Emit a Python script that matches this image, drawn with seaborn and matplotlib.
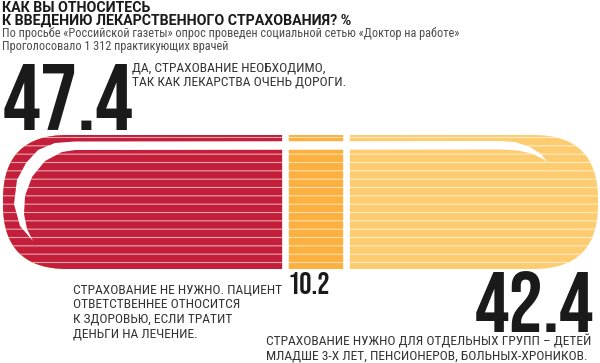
import numpy as np
import pandas as pd
import seaborn as sns
import matplotlib
matplotlib.use("Agg")
import matplotlib.pyplot as plt
from matplotlib.patches import FancyBboxPatch, Polygon
from matplotlib.transforms import Affine2D

# Данные опроса
answers = ["Да, необходимо", "Не нужно", "Для отдельных групп"]
shares = [47.4, 10.2, 42.4]
colors = ["#C41F3A", "#FBB040", "#FECC70"]

title = ["КАК ВЫ ОТНОСИТЕСЬ", "К ВВЕДЕНИЮ ЛЕКАРСТВЕННОГО СТРАХОВАНИЯ? %"]
subtitle = ["По просьбе «Российской газеты» опрос проведен социальной сетью «Доктор на работе»",
            "Проголосовало 1 312 практикующих врачей"]
captions = [
    ["ДА, СТРАХОВАНИЕ НЕОБХОДИМО,", "ТАК КАК ЛЕКАРСТВА ОЧЕНЬ ДОРОГИ."],
    ["СТРАХОВАНИЕ НЕ НУЖНО. ПАЦИЕНТ", "ОТВЕТСТВЕННЕЕ ОТНОСИТСЯ",
     "К ЗДОРОВЬЮ, ЕСЛИ ТРАТИТ", "ДЕНЬГИ НА ЛЕЧЕНИЕ."],
    ["СТРАХОВАНИЕ НУЖНО ДЛЯ ОТДЕЛЬНЫХ ГРУПП – ДЕТЕЙ",
     "МЛАДШЕ 3-Х ЛЕТ, ПЕНСИОНЕРОВ, БОЛЬНЫХ-ХРОНИКОВ."],
]

W, H = 600, 363
SCALE = 5.95          # пикселей на 1 процентный пункт
LEFT_PX, CENTER_PX = 3, 202
HALF_H = 67 / SCALE   # половина высоты «таблетки»
RADIUS = 64 / SCALE

sns.set_theme(style="white")
plt.rcParams["font.family"] = ["Roboto Condensed", "Fira Sans Condensed", "DejaVu Sans"]
plt.rcParams["hatch.linewidth"] = 0.8

fig = plt.figure(figsize=(W / 100, H / 100), dpi=100)
ax = fig.add_axes([0, 0, 1, 1])

# накопленные доли: рисуем от большей к меньшей, чтобы сегменты легли встык
cum = np.cumsum(shares)
df = pd.DataFrame({"row": ["all"] * 3, "cum": cum, "answer": answers})
sns.barplot(
    data=df, x="cum", y="row", hue="answer",
    hue_order=answers[::-1], palette=dict(zip(answers, colors)),
    dodge=False, width=2 * HALF_H + 2, saturation=1, legend=False,
    orient="h", ax=ax,
)

ax.set_xlim(-LEFT_PX / SCALE, (W - LEFT_PX) / SCALE)
ax.set_ylim(-(H - CENTER_PX) / SCALE, CENTER_PX / SCALE)
ax.set_axis_off()

clip = FancyBboxPatch((0, -HALF_H), cum[-1], 2 * HALF_H,
                      boxstyle=f"round,pad=0,rounding_size={RADIUS}",
                      transform=ax.transData)

for p in ax.patches:
    p.set_hatch("--")
    p.set_edgecolor((1, 1, 1, 0.6))
    p.set_linewidth(0)
    p.set_clip_path(clip)

# белые зазоры между сегментами
gaps = ax.vlines(cum[:-1], -HALF_H - 1, HALF_H + 1, color="white", lw=4.8)
gaps.set_clip_path(clip)

# блик на «таблетке»
px = Affine2D().scale(1 / W, -1 / H).translate(0, 1) + fig.transFigure
shine = [
    (33, 241), (20, 226), (14, 204), (17, 180), (26, 163), (38, 150), (55, 143),
    (75, 141.5), (500, 141), (515, 142), (530, 147), (541, 154), (548, 163),
    (543, 159), (533, 154), (518, 150.5), (500, 149.5), (75, 150), (62, 152),
    (45, 161), (32, 177), (25, 196), (24, 214), (27, 229),
]
ax.add_patch(Polygon(shine, closed=True, facecolor="white", edgecolor="none",
                     transform=px, zorder=5))


def put_lines(lines, x, y0, step, **kw):
    for i, line in enumerate(lines):
        fig.text(x, y0 + i * step, line, transform=px, va="baseline", **kw)


# тексты
put_lines(title, 2, 11.5, 13, fontsize=10.2, fontweight="bold", color="#1a1a1a",
          family=["Roboto", "DejaVu Sans"])
put_lines(subtitle, 2, 37.5, 12.5, fontsize=8.8, color="#4d4d4d")

num_font = dict(family=["Bebas Neue", "DejaVu Sans"], color="#1a1a1a", va="baseline")
fig.text(3, 130, f"{shares[0]:.1f}", transform=px, fontsize=68, **num_font)
fig.text(288, 293.5, f"{shares[1]:.1f}", transform=px, fontsize=22, **num_font)
fig.text(594, 332, f"{shares[2]:.1f}", transform=px, fontsize=62, ha="right", **num_font)

cap_font = dict(fontsize=9.7, color="#333333")
put_lines(captions[0], 132, 71.5, 14, **cap_font)
put_lines(captions[1], 73, 293.5, 14.5, **cap_font)
put_lines(captions[2], 266, 346, 14, **cap_font)

fig.savefig("out.png", dpi=100)
